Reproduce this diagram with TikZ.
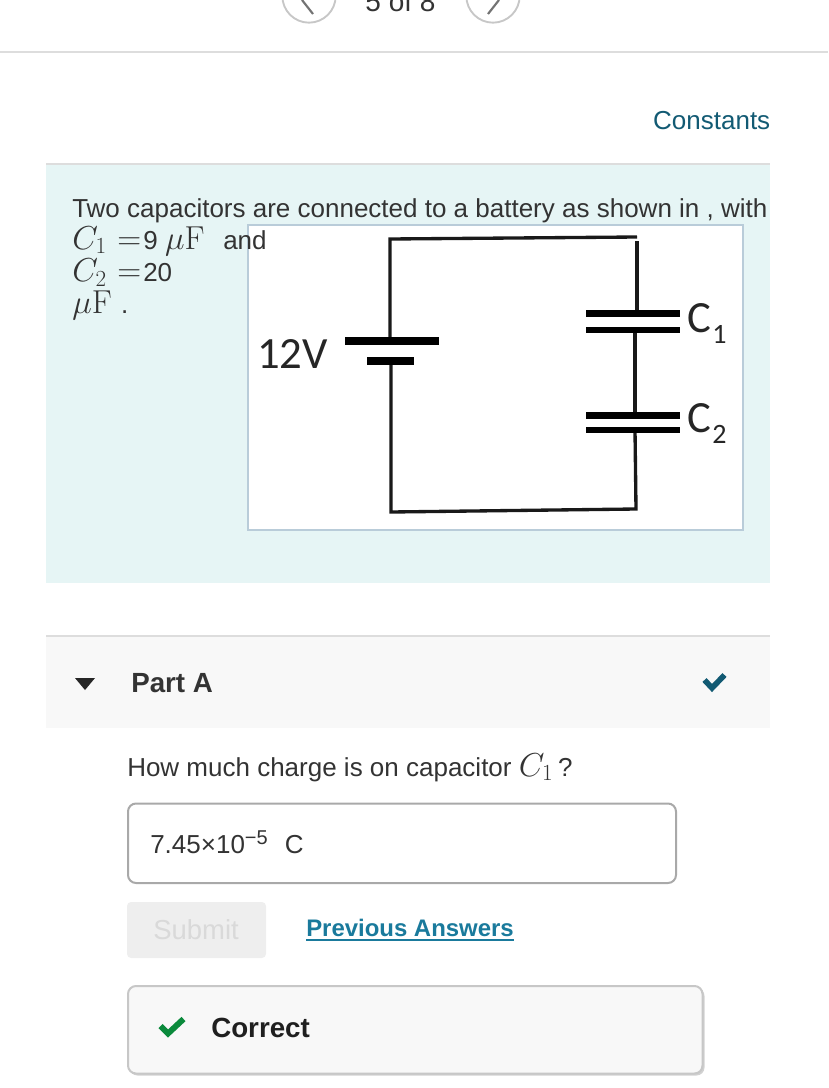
\documentclass[tikz,border=0pt]{standalone}
\usepackage[no-math]{fontspec}
\setmainfont{Liberation Sans}
\newfontfamily\calibrifont{Carlito}
\definecolor{rulegrey}{HTML}{DDDDDD}
\definecolor{panelteal}{HTML}{E6F5F5}
\definecolor{partgrey}{HTML}{F8F8F8}
\definecolor{framegrey}{HTML}{A9A9A9}
\definecolor{figframe}{HTML}{B9CCD9}
\definecolor{inktext}{HTML}{333333}
\definecolor{darkteal}{HTML}{125A73}
\definecolor{linkblue}{HTML}{1A7A9C}
\definecolor{okgreen}{HTML}{0B8A3C}
\newcommand{\webfont}{\fontsize{19.5}{24}\selectfont}
\newcommand{\powertext}[1]{\raisebox{6.5pt}{\fontsize{15}{18}\selectfont #1}}
\newcommand{\mathtext}[1]{{\fontsize{23}{24}\selectfont$#1$}}
\begin{document}
\begin{tikzpicture}[x=0.75pt,y=0.75pt,yscale=-1,xscale=1,
  webtext/.style={anchor=base west,inner sep=0pt,text=inktext,font=\webfont},
  boldtext/.style={anchor=base west,inner sep=0pt,text=inktext,font=\fontsize{20.8}{24}\selectfont\bfseries},
  circuitlabel/.style={anchor=base west,inner sep=0pt,text=black!85,font=\fontsize{33.5}{36}\calibrifont},
  wire/.style={line width=2.5pt,black!90},
  plate/.style={line width=4.6pt,black},
  navring/.style={draw=black!22,line width=1.4pt,fill=white,circle,minimum size=40pt,inner sep=0pt},
  navarrow/.style={draw=black!55,line width=1.6pt}]
\clip (0,0) rectangle (828,1088);
% page head
\node [navring] (prevring) at (309,-4) {};
\node [navring] (nextring) at (493,-4) {};
\coordinate (prevtip) at (302,0);
\coordinate (prevend) at (313,14);
\coordinate (nexttip) at (499,0);
\coordinate (nextend) at (488,14);
\draw [navarrow] (prevtip) -- (prevend);
\draw [navarrow] (nexttip) -- (nextend);
\node [webtext,anchor=base,font=\fontsize{21}{24}\selectfont] (pagecount) at (400.5,12) {5 of 8};
\fill [rulegrey] (0,51) rectangle (828,53);
\node [webtext,text=darkteal,anchor=base east] (constants) at (770.5,129) {Constants};
% statement panel
\fill [panelteal] (46,164) rectangle (770,583);
\fill [rulegrey] (46,163) rectangle (770,165);
\draw [figframe,line width=1.5pt,fill=white] (247.5,224.5) rectangle (743,529.5);
\node [webtext] (lineone) at (72,217) {Two capacitors are connected to a battery as shown in , with};
\node [webtext] (linetwo) at (72,249) {\mathtext{C_1}\hspace{8pt}\mathtext{=}\hspace{1.5pt}9\hspace{5.5pt}\mathtext{\mu\mathrm{F}}\hspace{14pt}and};
\node [webtext] (linethree) at (72,281.5) {\mathtext{C_2}\hspace{8pt}\mathtext{=}\hspace{1.5pt}20};
\node [webtext] (linefour) at (72,313) {\mathtext{\mu\mathrm{F}}\hspace{7pt}.};
% circuit
\coordinate (topleft) at (390,239);
\coordinate (topright) at (637,237);
\coordinate (botleft) at (391,512);
\coordinate (botright) at (636,509);
\coordinate (batlong) at (390,341);
\coordinate (batshort) at (391,361);
\coordinate (capa) at (637,313.5);
\coordinate (capb) at (635,330);
\coordinate (capc) at (635,415.5);
\coordinate (capd) at (635,430);
\draw [wire] (batlong) -- (topleft) -- (topright);
\draw [wire] (topright |- 0,241) -- (capa);
\draw [wire] (capb) -- (capc);
\draw [wire] (capd) -- (botright) -- (botleft) -- (batshort);
\draw [plate,line width=6pt] (345,341) -- (439,341);
\draw [plate,line width=5.6pt] (367,361) -- (414,361);
\draw [plate] (586,313.5) -- (680,313.5);
\draw [plate] (586,330) -- (680,330);
\draw [plate] (586,415.5) -- (680,415.5);
\draw [plate] (586,430) -- (680,430);
\node [circuitlabel] (batlabel) at (257,368) {12V};
\node [circuitlabel] (capalabel) at (687,332) {C};
\node [circuitlabel,font=\fontsize{21}{24}\calibrifont] (capaindex) at (712,343) {1};
\node [circuitlabel] (capblabel) at (687,432) {C};
\node [circuitlabel,font=\fontsize{21}{24}\calibrifont] (capbindex) at (712,443) {2};
% part A
\fill [partgrey] (46,636) rectangle (770,728);
\fill [rulegrey] (46,635) rectangle (770,637);
\fill [black!85] (75,678) -- (95,678) -- (85,690) -- cycle;
\node [boldtext] (parttitle) at (131,692) {Part A};
\draw [darkteal,line width=4.2pt] (704.5,680) -- (712,688) -- (724.5,675);
\node [webtext] (question) at (127,776) {How much charge is on capacitor \mathtext{C_1}\hspace{3.5pt}?};
\draw [framegrey,line width=1.5pt,rounded corners=6pt,fill=white] (128,803.5) rectangle (676,883);
\node [webtext] (answer) at (150,853) {7.45×10\powertext{−5}\ \ \hspace{2pt}C};
\fill [black!6.5,rounded corners=3pt] (127,902) rectangle (266,958);
\node [webtext,text=black!15,font=\fontsize{20.6}{24}\selectfont] (submit) at (153,939) {Submit};
\node [boldtext,text=linkblue,font=\fontsize{17.95}{24}\selectfont\bfseries] (previous) at (306,936) {Previous Answers};
\draw [linkblue,line width=1.2pt] (previous.base west) ++(0,4) coordinate (underleft) -- (underleft -| previous.base east);
% verdict
\fill [black!18,rounded corners=6pt] (129.5,988) rectangle (704.5,1075.5);
\draw [black!22,line width=1.5pt,rounded corners=6pt,fill=partgrey] (128,986) rectangle (702.5,1073.5);
\draw [okgreen,line width=4.4pt] (160.5,1026) -- (168,1033.5) -- (183.5,1019);
\node [boldtext,text=black!88] (verdict) at (211,1037) {Correct};
\end{tikzpicture}
\end{document}
